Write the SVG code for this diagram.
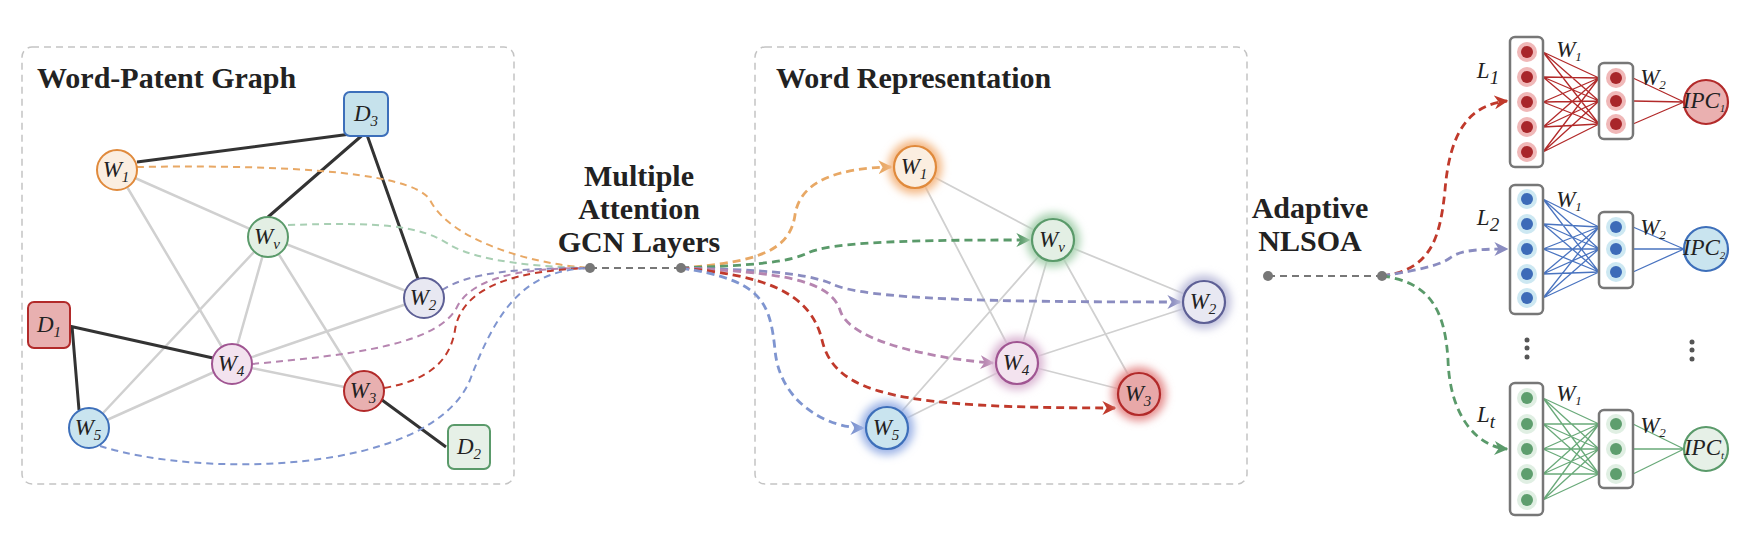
<svg xmlns="http://www.w3.org/2000/svg" width="1752" height="551" viewBox="0 0 1752 551">
<style>
.box{fill:none;stroke:#c4c4c4;stroke-width:1.5;stroke-dasharray:7 5}
.title{font-family:"Liberation Serif",serif;font-weight:bold;font-size:30px;fill:#222}
.lbl{font-family:"Liberation Serif",serif;font-style:italic;font-size:23px;fill:#222;text-anchor:middle}
.sub{font-size:15px}
.blk{stroke:#333;stroke-width:3;fill:none}
.gry{stroke:#d0d0d0;stroke-width:2.5;fill:none}
.gry2{stroke:#d0d0d0;stroke-width:1.8;fill:none}
.dl{fill:none;stroke-width:2;stroke-dasharray:7 5}
.da{fill:none;stroke-width:2.8;stroke-dasharray:8 5}
.col{fill:#fff;stroke:#777;stroke-width:2.5}
.gd{fill:#777}
</style>
<defs>
<filter id="glow" x="-50%" y="-50%" width="200%" height="200%"><feGaussianBlur stdDeviation="4"/></filter>
<marker id="mg" viewBox="0 0 10 10" refX="9" refY="5" markerWidth="14" markerHeight="14" orient="auto" markerUnits="userSpaceOnUse"><path d="M0,0 L10,5 L0,10 L3,5z" fill="#5a9a6a"/></marker>
<marker id="mp" viewBox="0 0 10 10" refX="9" refY="5" markerWidth="14" markerHeight="14" orient="auto" markerUnits="userSpaceOnUse"><path d="M0,0 L10,5 L0,10 L3,5z" fill="#8a8cc0"/></marker>
<marker id="mk" viewBox="0 0 10 10" refX="9" refY="5" markerWidth="14" markerHeight="14" orient="auto" markerUnits="userSpaceOnUse"><path d="M0,0 L10,5 L0,10 L3,5z" fill="#b685b0"/></marker>
<marker id="mr" viewBox="0 0 10 10" refX="9" refY="5" markerWidth="14" markerHeight="14" orient="auto" markerUnits="userSpaceOnUse"><path d="M0,0 L10,5 L0,10 L3,5z" fill="#c0392b"/></marker>
<marker id="mb" viewBox="0 0 10 10" refX="9" refY="5" markerWidth="14" markerHeight="14" orient="auto" markerUnits="userSpaceOnUse"><path d="M0,0 L10,5 L0,10 L3,5z" fill="#7f95d0"/></marker>
<marker id="mo2" viewBox="0 0 10 10" refX="9" refY="5" markerWidth="14" markerHeight="14" orient="auto" markerUnits="userSpaceOnUse"><path d="M0,0 L10,5 L0,10 L3,5z" fill="#e8a865"/></marker>
</defs>
<rect width="1752" height="551" fill="#fff"/>

<g id="panel-left">
<rect class="box" x="22" y="47" width="492" height="437" rx="10"/>
<text class="title" x="37" y="88">Word-Patent Graph</text>
</g>
<g id="panel-right">
<rect class="box" x="755" y="47" width="492" height="437" rx="10"/>
<text class="title" x="776" y="88">Word Representation</text>
</g>

<g id="connectors">
<path class="gry" d="M117,170 L268,237 M117,170 L232,364 M268,237 L424,298 M268,237 L232,364 M268,237 L89,428 M268,237 L364,391 M232,364 L424,298 M232,364 L364,391 M232,364 L89,428"/>
<path class="blk" d="M137,162 L366,132 M366,132 L268,217 M366,132 L418,279 M69,326 L213,358 M72,326 L79,410 M382,400 L446,447"/>
<path class="dl" stroke="#e8a865" d="M137,167 C250,165 410,168 430,200 C450,240 530,264 590,268"/>
<path class="dl" stroke="#a8cfb3" d="M288,225 C380,222 420,225 450,245 C480,262 540,267 590,268"/>
<path class="dl" stroke="#8a8cc0" d="M442,290 C470,272 520,268 590,268"/>
<path class="dl" stroke="#b685b0" d="M252,364 C350,355 440,345 458,305 C478,272 540,268 590,268"/>
<path class="dl" stroke="#c0392b" d="M384,388 C430,380 450,360 455,330 C462,285 520,270 590,268"/>
<path class="dl" stroke="#7f95d0" d="M100,446 C200,478 430,475 470,380 C500,300 530,270 590,268"/>
<path class="dl" stroke="#777" stroke-width="2.5" d="M590,268 L681,268"/>
<path class="gry2" d="M915,167 L1053,240 M915,167 L1017,363 M1053,240 L1204,302 M1053,240 L1017,363 M1053,240 L887,428 M1053,240 L1139,394 M1017,363 L1204,302 M1017,363 L1139,394 M1017,363 L887,428"/>
<path class="da" stroke="#e8a865" marker-end="url(#mo2)" d="M681,268 C760,262 790,250 795,215 C800,180 840,168 891,167"/>
<path class="da" stroke="#5a9a6a" marker-end="url(#mg)" d="M681,268 C760,265 790,262 810,252 C840,240 950,240 1029,240"/>
<path class="da" stroke="#8a8cc0" marker-end="url(#mp)" d="M681,268 C760,270 800,272 830,283 C860,300 1000,302 1180,302"/>
<path class="da" stroke="#b685b0" marker-end="url(#mk)" d="M681,268 C780,272 830,280 840,310 C850,345 950,360 993,363"/>
<path class="da" stroke="#c0392b" marker-end="url(#mr)" d="M681,268 C760,275 810,290 822,340 C835,395 900,408 1115,408"/>
<path class="da" stroke="#7f95d0" marker-end="url(#mb)" d="M681,268 C760,280 770,300 775,350 C780,405 830,428 863,428"/>
<path class="dl" stroke="#777" stroke-width="2.5" d="M1268,276 L1382,276"/>
<path class="da" stroke="#c0392b" marker-end="url(#mr)" d="M1382,276 C1430,270 1440,240 1445,190 C1450,130 1470,105 1507,101"/>
<path class="da" stroke="#8a8cc0" marker-end="url(#mp)" d="M1382,276 C1420,270 1440,265 1450,258 C1460,250 1480,249 1507,249"/>
<path class="da" stroke="#5a9a6a" marker-end="url(#mg)" d="M1382,276 C1430,282 1445,310 1448,360 C1450,420 1480,447 1507,449"/>
</g>

<g id="hubs">
<circle class="gd" cx="590" cy="268" r="5"/><circle class="gd" cx="681" cy="268" r="5"/>
<circle class="gd" cx="1268" cy="276" r="5"/><circle class="gd" cx="1382" cy="276" r="5"/>
<text class="title" font-size="26" text-anchor="middle" x="639" y="186">Multiple</text>
<text class="title" font-size="26" text-anchor="middle" x="639" y="219">Attention</text>
<text class="title" font-size="26" text-anchor="middle" x="639" y="252">GCN Layers</text>
<text class="title" font-size="26" text-anchor="middle" x="1310" y="218">Adaptive</text>
<text class="title" font-size="26" text-anchor="middle" x="1310" y="251">NLSOA</text>
</g>

<g id="L-D3"><rect x="344" y="92" width="44" height="44" rx="6" fill="#c6e2ec" stroke="#3d6fba" stroke-width="2"/><text class="lbl" x="366" y="121">D<tspan class="sub" dy="5">3</tspan></text></g>
<g id="L-D1"><rect x="28" y="302" width="42" height="46" rx="6" fill="#e8b0b0" stroke="#b22a2a" stroke-width="2"/><text class="lbl" x="49" y="332">D<tspan class="sub" dy="5">1</tspan></text></g>
<g id="L-D2"><rect x="448" y="425" width="42" height="44" rx="6" fill="#e6f0e7" stroke="#5a9a6a" stroke-width="2"/><text class="lbl" x="469" y="454">D<tspan class="sub" dy="5">2</tspan></text></g>
<g id="L-W1"><circle cx="117" cy="170" r="20" fill="#fbeee0" stroke="#e08a3c" stroke-width="2"/><text class="lbl" x="116" y="177">W<tspan class="sub" dy="5">1</tspan></text></g>
<g id="L-Wv"><circle cx="268" cy="237" r="20" fill="#e3efe4" stroke="#5a9a6a" stroke-width="2"/><text class="lbl" x="267" y="244">W<tspan class="sub" dy="5">v</tspan></text></g>
<g id="L-W2"><circle cx="424" cy="298" r="20" fill="#e8e8f2" stroke="#5d5f95" stroke-width="2"/><text class="lbl" x="423" y="305">W<tspan class="sub" dy="5">2</tspan></text></g>
<g id="L-W4"><circle cx="232" cy="364" r="20" fill="#f3e3ef" stroke="#a05592" stroke-width="2"/><text class="lbl" x="231" y="371">W<tspan class="sub" dy="5">4</tspan></text></g>
<g id="L-W3"><circle cx="364" cy="391" r="20" fill="#e8b0b0" stroke="#b22a2a" stroke-width="2"/><text class="lbl" x="363" y="398">W<tspan class="sub" dy="5">3</tspan></text></g>
<g id="L-W5"><circle cx="89" cy="428" r="20" fill="#c9e4ef" stroke="#3d6fba" stroke-width="2"/><text class="lbl" x="88" y="435">W<tspan class="sub" dy="5">5</tspan></text></g>

<g id="R-W1"><circle cx="915" cy="167" r="27" fill="#f4b884" filter="url(#glow)"/><circle cx="915" cy="167" r="21" fill="#fbeee0" stroke="#e08a3c" stroke-width="2.2"/><text class="lbl" x="914" y="174">W<tspan class="sub" dy="5">1</tspan></text></g>
<g id="R-Wv"><circle cx="1053" cy="240" r="27" fill="#a9d2b1" filter="url(#glow)"/><circle cx="1053" cy="240" r="21" fill="#e3efe4" stroke="#5a9a6a" stroke-width="2.2"/><text class="lbl" x="1052" y="247">W<tspan class="sub" dy="5">v</tspan></text></g>
<g id="R-W2"><circle cx="1204" cy="302" r="27" fill="#bfc0dc" filter="url(#glow)"/><circle cx="1204" cy="302" r="21" fill="#e8e8f2" stroke="#5d5f95" stroke-width="2.2"/><text class="lbl" x="1203" y="309">W<tspan class="sub" dy="5">2</tspan></text></g>
<g id="R-W4"><circle cx="1017" cy="363" r="27" fill="#dbb8d4" filter="url(#glow)"/><circle cx="1017" cy="363" r="21" fill="#f3e3ef" stroke="#a05592" stroke-width="2.2"/><text class="lbl" x="1016" y="370">W<tspan class="sub" dy="5">4</tspan></text></g>
<g id="R-W3"><circle cx="1139" cy="394" r="27" fill="#e58d8d" filter="url(#glow)"/><circle cx="1139" cy="394" r="21" fill="#e8a8a8" stroke="#b22a2a" stroke-width="2.2"/><text class="lbl" x="1138" y="401">W<tspan class="sub" dy="5">3</tspan></text></g>
<g id="R-W5"><circle cx="887" cy="428" r="27" fill="#9cb3e6" filter="url(#glow)"/><circle cx="887" cy="428" r="21" fill="#c9e4ef" stroke="#3d6fba" stroke-width="2.2"/><text class="lbl" x="886" y="435">W<tspan class="sub" dy="5">5</tspan></text></g>

<g id="clf-L1">
<path stroke="#b22a2a" stroke-width="1.3" fill="none" d="M1543,52L1599,78M1543,52L1599,101M1543,52L1599,124M1543,77L1599,78M1543,77L1599,101M1543,77L1599,124M1543,102L1599,78M1543,102L1599,101M1543,102L1599,124M1543,127L1599,78M1543,127L1599,101M1543,127L1599,124M1543,152L1599,78M1543,152L1599,101M1543,152L1599,124M1633,78L1684,102M1633,101L1684,102M1633,124L1684,102"/>
<rect class="col" x="1510" y="37" width="33" height="130" rx="5"/>
<rect class="col" x="1599" y="63" width="34" height="76" rx="5"/>
<g fill="#f0b8b8"><circle cx="1527" cy="52" r="10"/><circle cx="1527" cy="77" r="10"/><circle cx="1527" cy="102" r="10"/><circle cx="1527" cy="127" r="10"/><circle cx="1527" cy="152" r="10"/><circle cx="1616" cy="78" r="10"/><circle cx="1616" cy="101" r="10"/><circle cx="1616" cy="124" r="10"/></g>
<g fill="#a8262a"><circle cx="1527" cy="52" r="6"/><circle cx="1527" cy="77" r="6"/><circle cx="1527" cy="102" r="6"/><circle cx="1527" cy="127" r="6"/><circle cx="1527" cy="152" r="6"/><circle cx="1616" cy="78" r="6"/><circle cx="1616" cy="101" r="6"/><circle cx="1616" cy="124" r="6"/></g>
<circle cx="1706" cy="102" r="22" fill="#eab0b0" stroke="#b22a2a" stroke-width="2.2"/>
<text class="lbl" x="1704" y="108" font-size="16">IPC<tspan font-size="11" dy="4">1</tspan></text>
<text class="lbl" x="1488" y="78" font-size="30">L<tspan font-size="19" dy="6">1</tspan></text>
<text class="lbl" x="1569" y="57" font-size="20">W<tspan font-size="13" dy="4">1</tspan></text>
<text class="lbl" x="1653" y="85" font-size="20">W<tspan font-size="13" dy="4">2</tspan></text>
</g>

<g id="clf-L2">
<path stroke="#4a74c0" stroke-width="1.3" fill="none" d="M1543,199L1599,227M1543,199L1599,249M1543,199L1599,272M1543,224L1599,227M1543,224L1599,249M1543,224L1599,272M1543,249L1599,227M1543,249L1599,249M1543,249L1599,272M1543,274L1599,227M1543,274L1599,249M1543,274L1599,272M1543,298L1599,227M1543,298L1599,249M1543,298L1599,272M1633,227L1684,249M1633,249L1684,249M1633,272L1684,249"/>
<rect class="col" x="1510" y="185" width="33" height="129" rx="5"/>
<rect class="col" x="1599" y="212" width="34" height="76" rx="5"/>
<g fill="#cde8f2"><circle cx="1527" cy="199" r="10"/><circle cx="1527" cy="224" r="10"/><circle cx="1527" cy="249" r="10"/><circle cx="1527" cy="274" r="10"/><circle cx="1527" cy="298" r="10"/><circle cx="1616" cy="227" r="10"/><circle cx="1616" cy="249" r="10"/><circle cx="1616" cy="272" r="10"/></g>
<g fill="#3d6bb8"><circle cx="1527" cy="199" r="6"/><circle cx="1527" cy="224" r="6"/><circle cx="1527" cy="249" r="6"/><circle cx="1527" cy="274" r="6"/><circle cx="1527" cy="298" r="6"/><circle cx="1616" cy="227" r="6"/><circle cx="1616" cy="249" r="6"/><circle cx="1616" cy="272" r="6"/></g>
<circle cx="1706" cy="249" r="22" fill="#c9e4ef" stroke="#3d6fba" stroke-width="2.2"/>
<text class="lbl" x="1704" y="255" font-size="16">IPC<tspan font-size="11" dy="4">2</tspan></text>
<text class="lbl" x="1488" y="225" font-size="30">L<tspan font-size="19" dy="6">2</tspan></text>
<text class="lbl" x="1569" y="207" font-size="20">W<tspan font-size="13" dy="4">1</tspan></text>
<text class="lbl" x="1653" y="235" font-size="20">W<tspan font-size="13" dy="4">2</tspan></text>
</g>

<g id="clf-Lt">
<path stroke="#6aaa7a" stroke-width="1.3" fill="none" d="M1543,398L1599,424M1543,398L1599,449M1543,398L1599,474M1543,424L1599,424M1543,424L1599,449M1543,424L1599,474M1543,449L1599,424M1543,449L1599,449M1543,449L1599,474M1543,474L1599,424M1543,474L1599,449M1543,474L1599,474M1543,500L1599,424M1543,500L1599,449M1543,500L1599,474M1633,424L1684,449M1633,449L1684,449M1633,474L1684,449"/>
<rect class="col" x="1510" y="383" width="33" height="132" rx="5"/>
<rect class="col" x="1599" y="410" width="34" height="78" rx="5"/>
<g fill="#e0efe3"><circle cx="1527" cy="398" r="10"/><circle cx="1527" cy="424" r="10"/><circle cx="1527" cy="449" r="10"/><circle cx="1527" cy="474" r="10"/><circle cx="1527" cy="500" r="10"/><circle cx="1616" cy="424" r="10"/><circle cx="1616" cy="449" r="10"/><circle cx="1616" cy="474" r="10"/></g>
<g fill="#5e9e6e"><circle cx="1527" cy="398" r="6"/><circle cx="1527" cy="424" r="6"/><circle cx="1527" cy="449" r="6"/><circle cx="1527" cy="474" r="6"/><circle cx="1527" cy="500" r="6"/><circle cx="1616" cy="424" r="6"/><circle cx="1616" cy="449" r="6"/><circle cx="1616" cy="474" r="6"/></g>
<circle cx="1706" cy="449" r="22" fill="#e6f0e7" stroke="#5a9a6a" stroke-width="2.2"/>
<text class="lbl" x="1704" y="455" font-size="16">IPC<tspan font-size="11" dy="4">t</tspan></text>
<text class="lbl" x="1486" y="422" font-size="30">L<tspan font-size="19" dy="6">t</tspan></text>
<text class="lbl" x="1569" y="401" font-size="20">W<tspan font-size="13" dy="4">1</tspan></text>
<text class="lbl" x="1653" y="433" font-size="20">W<tspan font-size="13" dy="4">2</tspan></text>
</g>
<g id="ellipses" fill="#555"><circle cx="1527" cy="340" r="2.5"/><circle cx="1527" cy="348" r="2.5"/><circle cx="1527" cy="357" r="2.5"/><circle cx="1692" cy="342" r="2.5"/><circle cx="1692" cy="350" r="2.5"/><circle cx="1692" cy="359" r="2.5"/></g>
</svg>
